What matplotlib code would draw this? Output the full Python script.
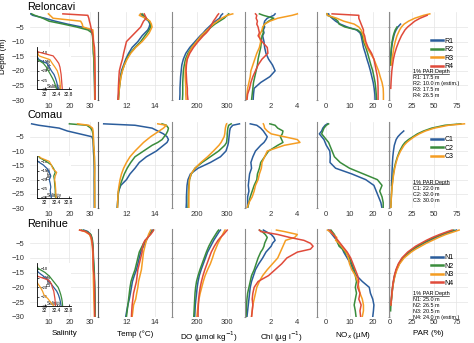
import numpy as np
import matplotlib.pyplot as plt
from matplotlib.lines import Line2D
from matplotlib.transforms import IdentityTransform

plt.rcParams['font.family'] = ['Liberation Sans', 'DejaVu Sans']
nan = np.nan

# common depth grid (m), profiles
depth = [0.5, 1, 2, 3, 4, 5, 6, 7, 8, 10, 12, 14, 16, 18, 20, 22, 24, 26, 28, 30]

# ---------------- Reloncavi ----------------
sal_R1 = [1.0, 2, 8, 13, 19, 26, 30.5, 31.2, 31.4, 31.6, 31.72, 31.8, 32.07, 32.15, 32.22, 32.31, 32.36, 32.4, 32.43, 32.46]
sal_R2 = [1.5, 3, 7, 10, 17, 23.5, 29, 31, 31.3, 31.5, 31.65, 31.76, 31.95, 32.05, 32.12, 32.19, 32.26, 32.32, 32.36, 32.40]
sal_R3 = [9.7, 10.5, 12, 25.5, 26.3, 26.6, 31.5, 31.6, 31.7, 31.75, 31.8, 32.17, 32.25, 32.34, 32.42, 32.46, 32.49, 32.51, 32.52, 32.53]
sal_R4 = [16.8, 29, 29.5, 29.8, 30.2, 30.5, 30.8, 31.2, 31.5, 31.8, 32.28, 32.38, 32.47, 32.51, 32.53, 32.55, 32.56, 32.57, 32.58, 32.59]
tmp_R1 = [13.0, 13.1, 13.3, 13.55, 13.65, 13.6, 13.5, 13.3, 13.1, 12.8, 12.4, 12.15, 11.95, 11.8, 11.65, 11.58, 11.52, 11.48, 11.45, 11.42]
tmp_R2 = [13.1, 13.2, 13.4, 13.6, 13.7, 13.7, 13.6, 13.45, 13.3, 13.0, 12.6, 12.25, 12.0, 11.85, 11.7, 11.6, 11.55, 11.5, 11.46, 11.43]
tmp_R3 = [13.0, 12.9, 13.35, 13.65, 13.75, 13.8, 13.7, 13.6, 13.45, 13.1, 12.65, 12.3, 12.05, 11.85, 11.72, 11.62, 11.55, 11.5, 11.46, 11.44]
tmp_R4 = [13.25, 13.3, 13.4, 13.2, 13.1, 13.0, 12.8, 12.6, 12.4, 12.0, 11.9, 11.8, 11.72, 11.6, 11.5, 11.47, 11.45, 11.43, 11.42, 11.4]
do_R1 = [285, 280, 275, 262, 250, 240, 230, 222, 212, 195, 178, 165, 157, 152, 150, 148, 147, 146, 146, 145]
do_R2 = [305, 300, 290, 275, 260, 248, 238, 228, 218, 200, 184, 172, 164, 160, 157, 156, 155, 155, 155, 154]
do_R3 = [318, 300, 282, 268, 255, 245, 235, 225, 215, 200, 185, 175, 168, 165, 163, 163, 164, 165, 165, 166]
do_R4 = [272, 268, 262, 255, 250, 245, 240, 232, 222, 205, 190, 178, 170, 167, 166, 167, 168, 170, 170, 172]
chl_R1 = [2.3, 2.2, 1.7, 1.5, 1.45, 1.5, 1.4, 1.45, 1.35, 1.45, 1.5, 1.6, 1.8, 2.1, 2.3, 1.9, 1.2, 0.7, 0.65, 0.62]
chl_R2 = [1.1, 1.4, 2.2, 1.8, 1.5, 1.4, 1.35, 1.4, 1.3, 1.25, 1.2, 1.1, 1.0, 0.95, 0.85, 0.75, 0.65, 0.6, 0.55, 0.5]
chl_R3 = [4.0, 3.6, 2.5, 1.9, 1.5, 1.35, 1.3, 1.2, 1.1, 1.2, 1.1, 0.9, 0.75, 0.6, 0.45, 0.4, 0.3, 0.2, 0.15, 0.12]
chl_R4 = [0.8, 0.9, 0.85, 0.95, 0.9, 1.0, 1.05, 1.1, 1.0, 1.3, 1.7, 1.75, 1.3, 1.0, 0.8, 0.6, 0.45, 0.35, 0.2, 0.15]
no3_R1 = [1.0, 1.2, 2.5, 4.0, 6.0, 9.0, 13.0, 14.5, 15.0, 15.5, 16.0, 16.8, 17.5, 18.3, 19.0, 19.6, 20.2, 20.6, 20.9, 21.0]
no3_R2 = [0.3, 0.5, 3.5, 5.0, 5.5, 8.0, 13.5, 15.0, 15.5, 16.0, 17.0, 17.8, 18.5, 19.2, 20.0, 20.5, 21.0, 21.3, 21.5, 21.7]
no3_R3 = [0.3, 0.5, 4.5, 7.5, 12.0, 14.0, 15.0, 15.5, 16.0, 16.5, 17.5, 19.0, 20.5, 21.5, 22.5, 23.2, 24.0, 24.5, 24.6, 24.6]
no3_R4 = [2.5, 14.0, 14.0, 14.5, 15.0, 15.5, 16.0, 16.0, 16.5, 17.0, 18.0, 19.5, 20.5, 21.0, 21.5, 22.0, 22.2, 22.3, 22.3, 22.3]
par_R1 = [nan, nan, nan, nan, 12, 9, 7, 5.5, 4.5, 3, 2, 1.4, 0.9, 0.6, nan, nan, nan, nan, nan, nan]
par_R2 = [nan, nan, nan, nan, nan, 8, 6, 4.8, 3.8, 2.5, 1.7, 1.1, 0.8, 0.5, nan, nan, nan, nan, nan, nan]
par_R3 = [45, 38, 28, 21, 16, 13, 11, 9.5, 8, 6, 4.5, 3.5, 2.5, 1.8, nan, nan, nan, nan, nan, nan]
par_R4 = [nan, 42, 34, 28, 24, 20, 17, 15, 13, 10, 7.5, 5.5, 4, 3, 2.2, 1.7, 1.3, 1.0, nan, nan]

# ---------------- Comau ----------------
sal_C1 = [1.5, 5, 15, 19, 25, 31.0, 31.5, 31.6, 31.7, 31.76, 31.95, 32.08, 32.15, 32.2, 32.15, 32.18, 32.2, 32.18, 32.2, 32.22]
sal_C2 = [20, 28.5, 30.5, 31.2, 31.5, 31.65, 31.72, 31.78, 31.82, 32.05, 32.22, 32.3, 32.35, 32.3, 32.32, 32.33, 32.34, 32.35, 32.35, 32.36]
sal_C3 = [24, 29.5, 31.3, 31.6, 31.7, 31.75, 31.78, 31.8, 31.85, 32.15, 32.22, 32.27, 32.4, 32.35, 32.33, 32.35, 32.36, 32.37, 32.37, 32.38]
tmp_C1 = [10.4, 12.6, 13.8, 14.2, 14.6, 14.85, 14.95, 14.85, 14.6, 14.1, 13.4, 12.9, 12.6, 12.25, 12.0, 11.6, 11.45, 11.4, 11.38, 11.35]
tmp_C2 = [14.5, 14.8, 14.95, 14.9, 14.8, 14.65, 14.5, 14.2, 13.8, 13.2, 12.6, 12.3, 12.05, 11.85, 11.7, 11.55, 11.45, 11.4, 11.38, 11.36]
tmp_C3 = [14.2, 14.8, 14.6, 14.3, 14.0, 13.7, 13.45, 13.2, 13.0, 12.6, 12.25, 12.0, 11.8, 11.65, 11.55, 11.48, 11.42, 11.4, 11.38, 11.37]
do_C1 = [340, 318, 310, 308, 307, 306, 305, 304, 302, 296, 278, 245, 205, 180, 172, 169, 168, 167, 167, 166]
do_C2 = [313, 305, 302, 301, 300, 300, 299, 298, 292, 272, 245, 218, 195, 183, 177, 175, 174, 173, 173, 172]
do_C3 = [298, 296, 294, 293, 292, 290, 285, 280, 273, 255, 236, 214, 195, 182, 177, 176, 175, 175, 175, 175]
chl_C1 = [0.4, 0.9, 1.2, 1.4, 1.55, 1.7, 1.6, 1.45, 1.2, 0.8, 0.6, 0.45, 0.5, 0.35, 0.3, 0.25, 0.3, 0.2, 0.2, 0.18]
chl_C2 = [1.9, 2.3, 2.5, 2.9, 2.85, 2.7, 2.8, 2.9, 2.5, 1.8, 1.5, 1.2, 1.1, 0.95, 0.9, 0.7, 0.55, 0.4, 0.3, 0.2]
chl_C3 = [1.4, 1.45, 1.5, 1.7, 2.0, 3.0, 4.0, 4.2, 3.0, 1.7, 1.5, 1.3, 1.25, 1.1, 1.0, 0.8, 0.7, 0.55, 0.3, 0.15]
no3_C1 = [0.5, -0.5, -1.5, -2, -3, -2, -1, -0.5, 0, 1.5, 1.7, 1.6, 4, 11, 17, 20.5, 21.5, 22.5, 23.5, 24]
no3_C2 = [1.0, 0, -1, -1.5, -2, -1, 0, 1, 1.5, 2.5, 3.5, 6, 10, 16, 22, 24, 23, 24, 24.5, 24.5]
no3_C3 = [nan] * 20  # no nitrate profile shown for C3
par_C1 = [nan, nan, nan, 15.6, 12, 9, 7, 6, 5, 4, 3.3, 2.9, 2.6, 2.3, 2.1, 1.9, nan, nan, nan, nan]
par_C2 = [80, 62, 47, 38, 31, 26, 21, 17, 14.5, 11, 8.5, 6.5, 5, 4, 3.2, 2.5, 2.0, 1.6, 1.3, 1.0]
par_C3 = [84, 66, 50, 40, 33, 27.5, 23, 19, 16, 12, 9, 7, 5.5, 4.3, 3.4, 2.7, 2.1, 1.7, 1.3, 1.0]

# ---------------- Renihue ----------------
sal_N1 = [27, 29, 30.3, 30.8, 31.1, 31.3, 31.45, 31.55, 31.62, 31.7, 31.78, 31.95, 32.08, 32.2, 32.3, 32.4, 32.46, 32.5, 32.53, 32.55]
sal_N2 = [26, 28.5, 30.5, 31.0, 31.3, 31.45, 31.55, 31.62, 31.68, 31.78, 32.0, 32.15, 32.25, 32.35, 32.45, 32.5, 32.54, 32.57, 32.59, 32.6]
sal_N3 = [25, 27.5, 29.8, 30.4, 30.8, 31.0, 31.2, 31.3, 31.4, 31.5, 31.58, 31.64, 31.7, 31.76, 31.85, 31.92, 31.97, 32.1, 32.2, 32.3]
sal_N4 = [25, 28, 30.0, 30.7, 31.0, 31.2, 31.35, 31.45, 31.55, 31.62, 31.68, 31.74, 32.1, 32.22, 32.25, 32.3, 32.32, 32.34, 32.35, 32.36]
tmp_N1 = [13.8, 13.75, 13.6, 13.5, 13.4, 13.3, 13.2, 13.1, 13.0, 12.9, 12.8, 12.7, 12.55, 12.42, 12.35, 12.28, 12.2, 12.1, 12.02, 11.95]
tmp_N2 = [13.9, 13.8, 13.65, 13.5, 13.35, 13.2, 13.1, 13.0, 12.9, 12.8, 12.7, 12.6, 12.45, 12.32, 12.25, 12.2, 12.15, 12.1, 12.05, 12.0]
tmp_N3 = [13.7, 13.65, 13.55, 13.5, 13.4, 13.35, 13.3, 13.25, 13.2, 13.15, 13.1, 13.05, 12.95, 12.85, 12.8, 12.72, 12.65, 12.5, 12.45, 12.4]
tmp_N4 = [13.9, 13.85, 13.7, 13.5, 13.3, 13.2, 13.15, 13.1, 13.1, 13.0, 12.9, 12.8, 12.75, 12.7, 12.6, 12.5, 12.45, 12.4, 12.37, 12.35]
do_N1 = [278, 274, 268, 262, 256, 251, 246, 241, 236, 229, 222, 215, 209, 205, 202, 200, 198, 196, 195, 194]
do_N2 = [272, 268, 262, 256, 250, 245, 240, 236, 232, 225, 218, 211, 205, 200, 197, 195, 194, 193, 192, 191]
do_N3 = [293, 290, 285, 280, 275, 270, 266, 262, 258, 252, 245, 236, 228, 222, 217, 212, 208, 205, 203, 201]
do_N4 = [300, 296, 288, 278, 270, 264, 258, 253, 248, 241, 234, 227, 221, 216, 212, 209, 207, 206, 205, 205]
chl_N1 = [1.4, 1.6, 2.0, 2.2, 2.3, 2.1, 2.0, 1.8, 1.6, 1.35, 1.05, 0.8, 0.65, 0.5, 0.4, 0.35, 0.3, 0.25, 0.2, 0.15]
chl_N2 = [1.1, 1.3, 1.55, 1.7, 1.6, 1.5, 1.45, 1.35, 1.2, 1.0, 0.85, 0.7, 0.5, 0.4, 0.3, 0.2, 0.15, 0.12, 0.1, 0.08]
chl_N3 = [2.4, 3.0, 4.0, 3.8, 3.1, 3.0, 2.9, 2.8, 2.7, 2.5, 2.1, 1.7, 1.35, 1.1, 0.9, 0.8, 0.7, 0.6, 0.55, 0.5]
chl_N4 = [1.1, 1.2, 2.5, 3.4, 4.5, 5.0, 5.2, 5.0, 4.0, 3.2, 2.8, 2.3, 1.8, 1.0, 0.7, 0.6, 0.55, 0.6, 0.55, 0.5]
no3_N1 = [1.0, 1.5, 2.5, 3.5, 4.5, 5.0, 6.0, 7.0, 7.5, 9.0, 10.5, 11.5, 13.0, 15.5, 18.5, 19.0, 20.0, 20.5, 20.3, 20.0]
no3_N2 = [2.0, 2.5, 3.5, 4.0, 4.5, 5.0, 5.5, 7.0, 8.0, 10.0, 11.0, 12.0, 12.5, 13.0, 12.5, 13.0, 12.5, 12.0, 12.5, 12.8]
no3_N3 = [0.5, 1.5, 3.0, 4.5, 4.0, 5.5, 6.5, 7.5, 8.5, 9.5, 10.0, 11.0, 12.5, 13.5, 14.0, 14.5, 15.5, 16.0, 16.0, 15.5]
no3_N4 = [1.5, 2.0, 3.0, 4.0, 5.0, 6.0, 7.0, 8.0, 9.0, 10.5, 11.5, 12.5, 13.5, 14.0, 13.5, 14.5, 14.0, 15.0, 14.5, 14.8]
par_N1 = [75, 70, 60, 52, 45, 38, 32, 27, 22, 15, 10.5, 7.5, 5.5, 4.2, 3.2, 2.5, 1.8, 1.2, nan, nan]
par_N2 = [72, 67, 58, 50, 43, 37, 31, 26, 21.5, 14.5, 10, 7.2, 5.3, 4, 3, 2.3, 1.7, 1.1, 0.8, nan]
par_N3 = [78, 73, 63, 55, 48, 41, 35, 29, 24, 16, 11, 8, 5.8, 4.3, 3.2, 2.4, 1.8, 1.3, nan, nan]
par_N4 = [70, 65, 56, 48, 41, 35, 29, 24.5, 20, 13.5, 9.5, 6.8, 5, 3.8, 2.9, 2.2, 1.6, 1.1, nan, nan]

sites = ['Reloncavi', 'Comau', 'Renihue']
stations = [['R1', 'R2', 'R3', 'R4'], ['C1', 'C2', 'C3'], ['N1', 'N2', 'N3', 'N4']]
par_depth_notes = [['R1: 17.5 m', 'R2: 10.0 m (estim.)', 'R3: 17.5 m', 'R4: 26.5 m'],
                   ['C1: 22.0 m', 'C2: 32.0 m', 'C3: 30.0 m'],
                   ['N1: 25.0 m', 'N2: 26.5 m', 'N3: 20.5 m', 'N4: 24.0 m (estim.)']]
variables = ['sal', 'tmp', 'do', 'chl', 'no3', 'par']
xlabels = ['Salinity', 'Temp (°C)', 'DO (µmol kg$^{-1}$)', 'Chl (µg l$^{-1}$)', 'NO$_x$ (µM)', 'PAR (%)']
xlims = [(0.7, 34), (10, 15.2), (120, 358), (0, 5.5), (-4, 27), (-1, 88)]
xticks = [[10, 20, 30], [12, 14], [200, 300], [2, 4], [0, 10, 20], [0, 25, 50, 75]]

colors = ['#2b5d9c', '#3a8c3c', '#f59d22', '#e04a3a']

W, H = 474, 343
fig = plt.figure(figsize=(W / 100, H / 100), dpi=100)
col_edges = [30, 98, 172, 245, 317, 389, 468]
rows_px = [(12.4, 100), (122.4, 208.3), (228.6, 316.7)]
title_y = [10.5, 118.5, 227]
legend_top = [0.71, 0.84, 0.71]
note_top = [0.35, 0.33, 0.29]

d = -np.array(depth)
underline_texts = []

for r, site in enumerate(sites):
    top, bot = rows_px[r]
    fig.text(27 / W, 1 - title_y[r] / H, site, fontsize=7.8, va='baseline', ha='left')
    for c, var in enumerate(variables):
        x0, x1 = col_edges[c], col_edges[c + 1]
        ax = fig.add_axes([x0 / W, 1 - bot / H, (x1 - x0) / W, (bot - top) / H])
        for k, st in enumerate(stations[r]):
            vals = np.array(globals()[f'{var}_{st}'], dtype=float)
            ax.plot(vals, d, color=colors[k], lw=1.1, solid_joinstyle='round')
        ax.set_xlim(*xlims[c])
        ax.set_ylim(-30, 0)
        ax.set_xticks(xticks[c])
        ax.set_yticks(range(-30, 0, 5))
        ax.grid(color='#e4e4e4', lw=0.5)
        ax.set_axisbelow(True)
        for s in ['top', 'right', 'bottom']:
            ax.spines[s].set_visible(False)
        ax.tick_params(axis='x', length=0, labelsize=5.5, pad=2, labelcolor='#333333')
        if c == 0:
            ax.spines['left'].set_visible(False)
            ax.tick_params(axis='y', length=0, labelsize=5.5, pad=4, labelcolor='#333333')
        else:
            ax.spines['left'].set_color('#555555' if c == 1 else '#8a8a8a')
            ax.spines['left'].set_linewidth(0.8)
            ax.tick_params(axis='y', length=2, direction='inout', color='#8a8a8a',
                           width=0.6, labelleft=False)
        if r == 2:
            ax.set_xlabel(xlabels[c], fontsize=5.8, labelpad=2.5)
        if r == 0 and c == 0:
            ax.set_ylabel('Depth (m)', fontsize=5.8, labelpad=3)

        if var == 'sal':
            # zoomed salinity inset
            ins = ax.inset_axes([0.11, 0.12, 0.5, 0.49])
            ins.set_facecolor('white')
            for k, st in enumerate(stations[r]):
                vals = np.array(globals()[f'sal_{st}'], dtype=float)
                ins.plot(vals, d, color=colors[k], lw=0.9)
            ins.set_xlim(31.75, 32.9)
            ins.set_ylim(-30, -7)
            ins.set_xticks([32, 32.4, 32.8])
            ins.set_xticklabels(['32', '32.4', '32.8'])
            ins.set_yticks([-30, -25, -20, -15, -10])
            for s in ['top', 'right']:
                ins.spines[s].set_visible(False)
            for s in ['left', 'bottom']:
                ins.spines[s].set_linewidth(0.6)
            ins.tick_params(axis='x', length=1.5, direction='in', labelsize=3.4, pad=1.5, width=0.5)
            ins.tick_params(axis='y', length=1.5, direction='in', labelsize=3.1, pad=-2.5, width=0.5)
            for lab in ins.get_yticklabels():
                lab.set_ha('left')
            ins.set_ylabel('Depth', fontsize=3.3)
            ins.yaxis.set_label_coords(0.42, 0.6)
            ins.set_xlabel('Salinity', fontsize=3.3)
            ins.xaxis.set_label_coords(0.5, 0.13)

        if var == 'par':
            handles = [Line2D([], [], color=colors[k], lw=1.8) for k in range(len(stations[r]))]
            ax.legend(handles, stations[r], loc='upper left', bbox_to_anchor=(0.53, legend_top[r]),
                      frameon=False, fontsize=5, handlelength=1.7, handletextpad=0.3,
                      labelspacing=0.22, borderaxespad=0, borderpad=0)
            t = ax.text(0.3, note_top[r], '1% PAR Depth', transform=ax.transAxes,
                        fontsize=4, va='top', ha='left')
            underline_texts.append(t)
            ax.text(0.3, note_top[r] - 0.065, '\n'.join(par_depth_notes[r]), transform=ax.transAxes,
                    fontsize=3.9, va='top', ha='left', linespacing=1.25)

fig.canvas.draw()
for t in underline_texts:
    bb = t.get_window_extent()
    fig.add_artist(Line2D([bb.x0, bb.x1], [bb.y0 + 0.6, bb.y0 + 0.6], lw=0.4,
                          color='black', transform=IdentityTransform()))

fig.savefig('out.png', dpi=100)
